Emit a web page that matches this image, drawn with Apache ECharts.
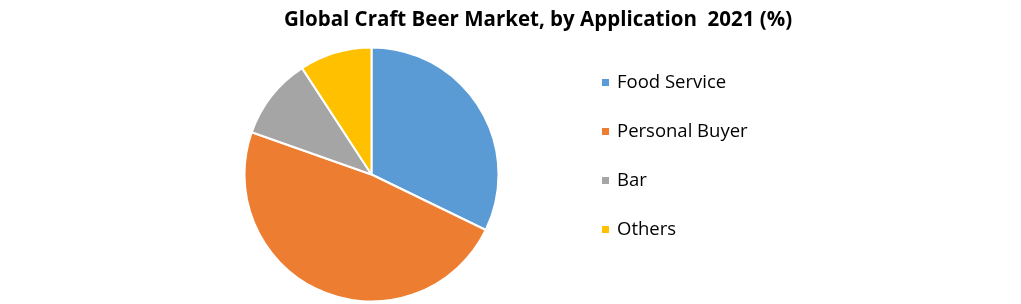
<!DOCTYPE html>
<html><head><meta charset="utf-8">
<script src="https://cdn.jsdelivr.net/npm/echarts@6/dist/echarts.min.js"></script>
<style>html,body{margin:0;padding:0;background:#fff}#c{width:1021px;height:304px}</style>
</head><body><div id="c"></div>
<script>
const categories = ["Food Service", "Personal Buyer", "Bar", "Others"];
const values = [32.2, 48.2, 10.4, 9.2];
const colors = ["#5B9BD5", "#ED7D31", "#A5A5A5", "#FFC000"];
const titleText = "Global Craft Beer Market, by Application  2021 (%)";

const chart = echarts.init(document.getElementById('c'), null, {renderer: 'canvas'});
chart.setOption({
  animation: false,
  title: {
    text: titleText, left: 533, top: 5, textAlign: 'center',
    textStyle: {fontFamily: 'Open Sans', fontWeight: 'bold', fontSize: 20.5, color: '#000'}
  },
  legend: {
    orient: 'vertical', left: 595, top: 68,
    icon: 'rect', itemWidth: 9, itemHeight: 9, itemGap: 30,
    textStyle: {fontFamily: 'Open Sans', fontSize: 18.5, lineHeight: 19, color: '#000', padding: [0,0,0,2]},
    data: categories
  },
  series: [{
    type: 'pie', center: [371.5, 174.5], radius: 127,
    startAngle: 90, clockwise: true,
    label: {show: false}, labelLine: {show: false},
    itemStyle: {borderColor: '#fff', borderWidth: 2},
    emphasis: {disabled: true},
    data: categories.map((n, i) => ({name: n, value: values[i], itemStyle: {color: colors[i]}}))
  }]
});
</script></body></html>
